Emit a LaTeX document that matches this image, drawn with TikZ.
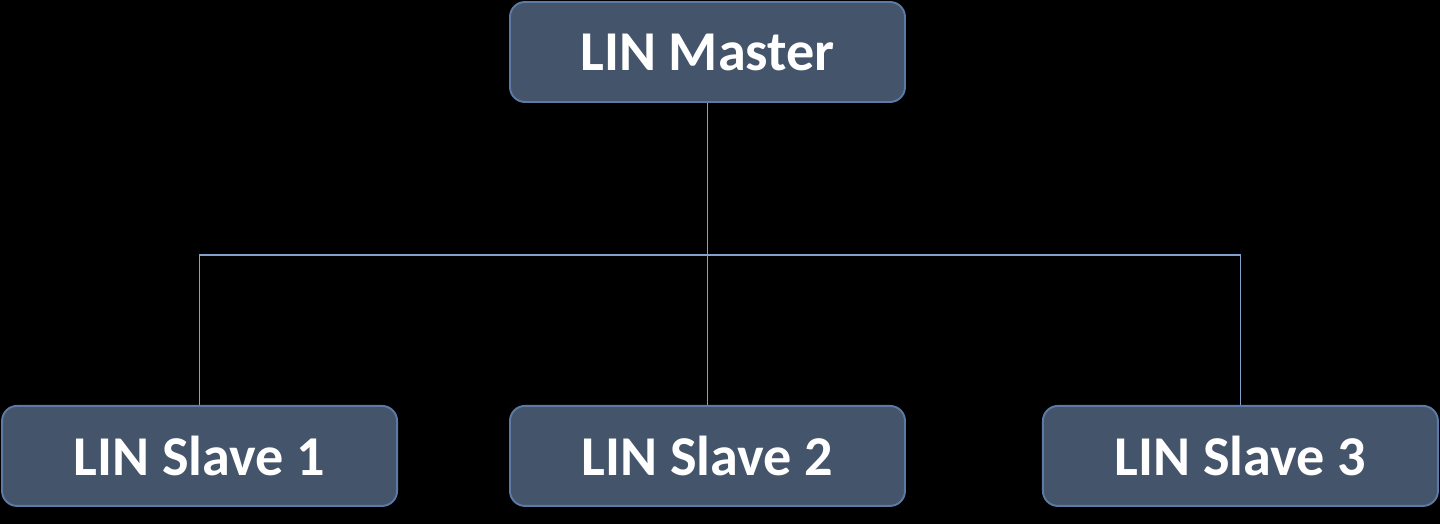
\documentclass[tikz,border=0pt]{standalone}
\usepackage{fontspec}
\setmainfont{Carlito}
\usepackage{xcolor}
\usepackage{tikz}
\usetikzlibrary{shapes,arrows,positioning,calc}

\definecolor{boxfill}{HTML}{44546A}
\definecolor{boxline}{RGB}{92,122,165}
\definecolor{busline}{RGB}{132,160,205}

\begin{document}
\begin{tikzpicture}[box/.style={draw=boxline, line width=1.1pt, fill=boxfill, rounded corners=0.3cm,
      minimum width=7.9cm, minimum height=2cm, text=white, font=\fontsize{32}{36}\selectfont\bfseries},
    bus/.style={draw=busline, line width=0.8pt}]
    % background
    \fill[black] (-14.15,1.04) rectangle (14.65,-9.44);
    \useasboundingbox (-14.15,1.04) rectangle (14.65,-9.44);
    \node[box] (master) at (0,0) {LIN Master};
    \node[box, below=6.04cm of master] (slave2) {LIN Slave 2};
    \node[box, left=2.22cm of slave2] (slave1) {LIN Slave 1};
    \node[box, right=2.72cm of slave2] (slave3) {LIN Slave 3};
    \coordinate[below=3.04cm of master.south] (fork);
    \draw[bus] (master.south) -- (fork) -- (slave2.north);
    \draw[bus] (slave1.north) |- (fork) -| (slave3.north);
  \end{tikzpicture}
\end{document}
